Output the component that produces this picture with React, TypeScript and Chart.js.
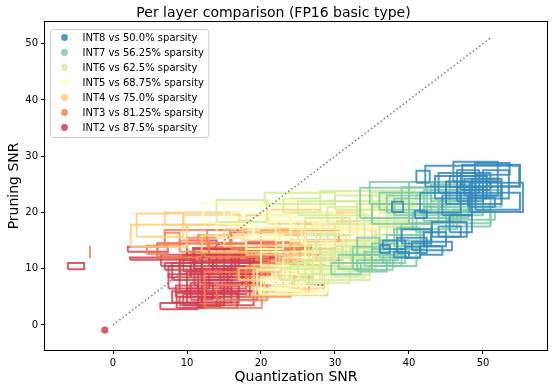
import React, { useEffect, useRef } from "react";
import { Chart, registerables } from "chart.js";

Chart.register(...registerables);

type Box = [number, number, number, number]; // [xMin, xMax, yMin, yMax]

const seriesLabels = [
  "INT8 vs 50.0% sparsity",
  "INT7 vs 56.25% sparsity",
  "INT6 vs 62.5% sparsity",
  "INT5 vs 68.75% sparsity",
  "INT4 vs 75.0% sparsity",
  "INT3 vs 81.25% sparsity",
  "INT2 vs 87.5% sparsity",
];

const int8Boxes: Box[] = [
  [42.2, 54.9, 24.6, 28.3], [47.2, 55.0, 24.6, 28.5], [48.9, 53.6, 26.7, 28.8],
  [46.0, 52.0, 25.5, 29.0], [48.2, 55.4, 20.1, 25.3], [49.0, 55.0, 20.5, 23.5],
  [48.0, 51.6, 21.0, 22.6], [41.0, 42.8, 25.3, 27.4], [43.5, 50.5, 22.5, 26.5],
  [45.0, 52.5, 21.5, 25.5], [44.0, 49.0, 23.5, 27.0], [46.5, 50.0, 22.0, 24.5],
  [47.5, 52.5, 23.0, 26.0], [50.0, 53.5, 22.5, 27.5], [44.5, 48.5, 19.5, 23.0],
  [41.5, 47.0, 20.0, 23.5], [37.7, 39.2, 20.1, 21.9], [40.8, 42.4, 19.0, 20.3],
  [43.1, 47.8, 15.7, 18.3], [44.0, 47.0, 15.7, 17.5], [36.1, 37.4, 12.8, 14.2],
  [38.4, 42.4, 12.8, 15.5], [39.5, 41.5, 11.9, 13.9], [40.4, 45.8, 13.3, 14.8],
  [38.0, 40.0, 12.0, 13.0], [41.5, 44.5, 12.5, 14.0], [36.5, 39.5, 13.5, 15.0],
  [42.0, 45.0, 14.0, 16.5], [45.5, 48.5, 16.5, 19.5], [39.0, 43.0, 14.5, 17.0],
  [46.5, 49.5, 23.5, 27.5], [47.0, 51.0, 24.0, 27.0], [48.5, 52.0, 23.0, 26.0],
  [45.5, 50.5, 24.5, 26.5],
];

const int7Boxes: Box[] = [
  [34.7, 46.9, 21.5, 25.4], [33.4, 42.4, 19.0, 24.4], [45.0, 51.6, 18.7, 20.1],
  [40.0, 51.0, 18.1, 25.4], [36.0, 48.0, 20.5, 23.5], [38.0, 50.0, 19.5, 22.5],
  [42.0, 52.5, 21.0, 24.0], [35.0, 44.0, 18.0, 21.5], [40.5, 46.5, 17.0, 20.0],
  [37.0, 43.0, 20.0, 23.0], [43.0, 49.0, 22.0, 25.0], [32.4, 37.8, 9.8, 12.5],
  [32.4, 37.4, 11.0, 13.9], [38.4, 41.5, 12.1, 17.3], [30.5, 35.0, 10.0, 12.5],
  [34.0, 39.0, 10.5, 13.0], [36.0, 40.0, 12.0, 15.0], [35.0, 38.5, 11.5, 14.5],
  [29.5, 33.5, 9.0, 11.0], [37.0, 42.0, 13.5, 16.0], [39.0, 43.0, 15.0, 18.0],
  [41.0, 45.0, 16.5, 19.0], [33.0, 36.0, 12.5, 15.5], [44.0, 48.0, 19.0, 22.0],
  [35.0, 41.0, 10.5, 13.5], [33.0, 37.0, 9.5, 11.5], [36.5, 39.5, 11.0, 12.5],
  [38.0, 43.0, 14.0, 17.0], [45.0, 50.0, 20.0, 24.0], [39.0, 45.5, 21.5, 24.5],
  [46.0, 51.0, 17.5, 20.5], [42.0, 47.0, 18.5, 21.0],
];

const int6Boxes: Box[] = [
  [14.0, 20.8, 18.3, 22.2], [20.5, 30.0, 21.5, 23.5], [28.0, 41.0, 22.0, 23.8],
  [30.0, 38.0, 20.5, 23.0], [25.0, 35.0, 19.5, 22.0], [33.0, 40.0, 18.5, 21.5],
  [26.0, 32.0, 16.0, 19.0], [30.0, 36.0, 14.0, 18.0], [28.2, 34.7, 8.9, 11.9],
  [22.6, 28.0, 8.0, 10.0], [25.0, 30.0, 9.0, 11.5], [30.0, 35.5, 10.0, 13.0],
  [33.0, 38.0, 11.0, 14.5], [27.0, 31.0, 10.5, 13.5], [24.0, 27.0, 8.5, 10.5],
  [35.0, 39.0, 13.0, 16.0], [31.0, 34.0, 12.0, 15.0], [37.0, 42.0, 16.0, 19.5],
  [22.0, 26.5, 11.0, 14.0], [34.0, 38.0, 15.0, 19.0], [36.0, 40.0, 20.0, 22.5],
  [29.0, 33.0, 18.0, 21.0], [28.0, 34.7, 8.0, 12.5], [29.5, 34.0, 8.5, 10.5],
  [26.0, 32.0, 7.5, 10.0], [31.0, 37.0, 9.5, 12.0], [32.0, 36.5, 11.5, 13.5],
  [36.0, 41.0, 14.0, 17.5], [38.0, 42.0, 18.0, 21.5], [23.0, 28.0, 20.0, 22.5],
  [35.0, 41.0, 21.0, 23.5], [27.5, 31.5, 13.0, 16.0],
];

const int5Boxes: Box[] = [
  [12.2, 21.2, 18.3, 21.7], [24.0, 42.0, 21.0, 23.6], [16.0, 28.0, 17.5, 20.0],
  [20.0, 33.0, 19.5, 22.0], [27.0, 37.0, 18.0, 21.0], [30.0, 40.0, 17.0, 20.5],
  [22.0, 30.0, 15.0, 18.5], [26.0, 34.0, 13.0, 16.5], [31.0, 37.0, 14.0, 17.5],
  [24.2, 28.4, 7.5, 10.3], [19.5, 25.3, 6.2, 9.8], [20.0, 24.0, 6.5, 8.5],
  [21.5, 26.0, 7.0, 9.0], [25.0, 29.0, 8.0, 11.0], [28.0, 32.0, 9.5, 12.5],
  [23.0, 27.0, 9.0, 12.0], [27.0, 30.5, 11.0, 14.0], [18.0, 23.0, 13.5, 16.0],
  [32.0, 38.0, 16.0, 19.0], [35.0, 40.5, 19.0, 22.0], [20.0, 26.0, 10.5, 13.0],
  [14.0, 19.0, 15.5, 18.0], [20.0, 28.0, 5.5, 8.0], [22.0, 29.0, 6.0, 10.0],
  [23.5, 27.5, 7.0, 9.5], [19.0, 24.0, 15.5, 18.5], [24.0, 30.0, 17.0, 20.0],
  [33.0, 39.0, 20.0, 23.0], [29.0, 34.0, 11.0, 14.5], [15.0, 25.0, 19.0, 21.0],
  [36.0, 39.5, 17.5, 21.0], [25.5, 32.0, 14.5, 17.5],
];

const int4Boxes: Box[] = [
  [3.2, 9.5, 15.7, 19.8], [2.4, 10.0, 13.9, 17.8], [7.0, 17.0, 17.8, 20.0],
  [9.5, 17.2, 17.8, 19.6], [15.0, 24.0, 14.0, 17.0], [12.0, 20.0, 13.0, 16.0],
  [18.0, 26.0, 12.5, 16.0], [22.0, 30.0, 12.0, 16.5], [25.0, 33.0, 14.5, 18.5],
  [28.0, 35.0, 15.0, 19.0], [24.0, 31.0, 16.5, 20.0], [20.0, 27.0, 10.0, 13.0],
  [26.0, 32.0, 10.5, 14.0], [19.0, 25.0, 6.0, 9.5], [21.5, 27.0, 7.0, 10.0],
  [17.0, 23.5, 8.0, 10.1], [23.0, 29.0, 8.0, 11.5], [29.0, 34.0, 12.5, 16.0],
  [30.0, 36.0, 17.0, 20.5], [17.5, 22.5, 15.0, 18.5], [19.0, 29.0, 5.3, 10.7],
  [20.5, 26.0, 5.5, 8.0], [23.0, 28.5, 6.5, 9.0], [22.5, 27.5, 9.5, 12.5],
  [26.0, 31.0, 13.0, 16.5], [27.0, 34.0, 17.5, 20.0], [18.0, 24.0, 16.5, 19.5],
  [21.0, 28.0, 18.0, 20.5], [31.0, 35.5, 14.0, 17.0], [24.5, 29.5, 11.0, 14.5],
];

const int3Boxes: Box[] = [
  [-3.1, -3.1, 11.9, 14.1], [4.6, 7.4, 12.6, 14.1], [7.0, 9.0, 14.0, 16.4],
  [12.7, 15.8, 13.9, 16.9], [6.0, 12.0, 12.0, 14.5], [10.0, 18.0, 13.0, 15.5],
  [18.0, 26.0, 13.0, 16.0], [20.0, 28.0, 11.0, 14.5], [22.0, 30.0, 13.5, 17.0],
  [24.0, 31.0, 11.5, 15.0], [26.0, 32.0, 15.0, 18.0], [9.0, 13.0, 13.0, 15.0],
  [7.0, 18.0, 14.5, 16.9], [16.0, 30.0, 13.5, 16.5], [20.0, 30.5, 14.0, 16.9],
  [25.0, 30.0, 12.5, 15.0], [11.5, 16.0, 14.5, 16.0], [19.5, 24.5, 11.5, 13.5],
  [12.4, 20.1, 3.0, 9.4], [14.0, 20.8, 4.4, 7.1], [16.8, 23.5, 8.0, 10.1],
  [18.0, 24.0, 5.0, 8.5], [20.0, 25.0, 6.0, 9.0], [12.4, 18.0, 12.1, 12.8],
  [18.2, 21.0, 12.1, 13.7], [21.0, 27.0, 8.5, 11.5], [22.0, 26.5, 6.0, 9.0],
  [18.0, 24.5, 7.0, 10.5],
];

const int2Boxes: Box[] = [
  [-6.1, -3.9, 9.9, 11.0], [2.0, 7.4, 13.0, 13.9], [2.3, 10.5, 11.6, 12.0],
  [6.4, 11.4, 2.8, 3.9], [7.0, 12.0, 9.8, 11.0], [8.6, 16.8, 3.0, 5.7],
  [9.0, 14.0, 3.5, 5.0], [10.0, 16.0, 4.0, 6.5], [10.8, 21.2, 11.2, 13.7],
  [8.0, 15.0, 8.0, 11.0], [9.5, 17.0, 9.5, 12.5], [11.0, 19.0, 10.0, 13.0],
  [12.0, 20.0, 7.5, 10.5], [7.5, 13.0, 6.5, 9.0], [13.0, 22.0, 10.5, 14.5],
  [15.0, 24.0, 11.0, 13.5], [16.0, 25.0, 9.0, 12.0], [8.5, 11.5, 5.0, 7.0],
  [12.5, 18.0, 5.5, 8.5], [6.0, 10.0, 12.0, 14.5], [24.2, 28.4, 7.1, 10.7],
  [18.0, 24.0, 12.0, 14.8], [10.0, 14.0, 12.5, 15.0], [14.0, 19.0, 3.5, 6.0],
  [20.0, 27.0, 12.5, 13.8], [11.5, 15.5, 6.0, 9.0], [12.0, 22.0, 8.0, 12.5],
  [13.5, 21.0, 9.0, 11.5], [14.0, 23.0, 10.0, 13.0], [15.5, 20.5, 8.5, 10.5],
  [11.0, 17.5, 7.0, 10.0], [10.5, 16.0, 8.5, 12.0], [16.5, 22.5, 9.5, 12.5],
  [17.0, 25.3, 11.0, 13.3], [9.0, 13.5, 9.0, 11.5], [8.0, 12.0, 4.0, 6.0],
  [9.5, 15.0, 3.5, 5.5], [10.5, 13.5, 4.5, 7.5], [12.0, 17.0, 4.0, 7.0],
  [11.5, 14.5, 3.2, 4.8], [7.5, 10.5, 8.5, 10.5], [13.0, 18.5, 11.5, 13.5],
  [18.5, 22.0, 10.5, 12.0], [14.5, 18.0, 6.5, 9.5], [20.0, 24.0, 9.0, 11.5],
  [6.5, 12.0, 10.5, 12.5], [12.5, 16.0, 5.0, 8.0], [15.0, 19.5, 4.5, 7.5],
  [9.0, 19.0, 6.0, 12.0], [10.0, 18.5, 5.0, 9.5], [11.0, 20.0, 9.5, 13.5],
];

const int2Dot = [{ x: -1.1, y: -0.9 }];
const diagonalLine = [{ x: 0, y: 0 }, { x: 51, y: 51 }];

const xTickValues = [0, 10, 20, 30, 40, 50];
const yTickValues = [0, 10, 20, 30, 40, 50];
const xRange = [-9.19, 58.65];
const yRange = [-4.45, 53.9];

const allBoxes = [int8Boxes, int7Boxes, int6Boxes, int5Boxes, int4Boxes, int3Boxes, int2Boxes];

const seriesRGB = [
  [50, 136, 189],
  [125, 203, 165],
  [210, 237, 156],
  [255, 255, 191],
  [254, 207, 125],
  [247, 131, 77],
  [213, 62, 79],
];
const ALPHA = 0.85;
const rgba = (c: number[], a: number) => `rgba(${c[0]},${c[1]},${c[2]},${a})`;

const FONT = '"DejaVu Sans", "Liberation Sans", sans-serif';

function boxesToPath(boxes: Box[]) {
  const pts: { x: number; y: number | null }[] = [];
  boxes.forEach(([x0, x1, y0, y1]) => {
    pts.push({ x: x0, y: y0 }, { x: x1, y: y0 }, { x: x1, y: y1 }, { x: x0, y: y1 }, { x: x0, y: y0 });
    pts.push({ x: x0, y: null });
  });
  return pts;
}

const framePlugin = {
  id: "frame",
  afterDraw(chart: any) {
    const { ctx, chartArea: a } = chart;
    ctx.save();
    ctx.strokeStyle = "#000";
    ctx.lineWidth = 1;
    const l = Math.round(a.left) - 0.5;
    const t = Math.round(a.top) - 0.5;
    const r = Math.round(a.right) + 0.5;
    const b = Math.round(a.bottom) + 0.5;
    ctx.strokeRect(l, t, r - l, b - t);
    ctx.restore();
  },
};

const legendPlugin = {
  id: "boxLegend",
  afterDraw(chart: any) {
    const { ctx, chartArea: a } = chart;
    ctx.save();
    ctx.font = `10px ${FONT}`;
    const maxW = Math.max(...seriesLabels.map((l) => ctx.measureText(l).width));
    const x0 = Math.round(a.left) + 5.5;
    const y0 = Math.round(a.top) + 7.5;
    const w = 32 + maxW + 5;
    const h = 108;
    const r = 3;
    ctx.beginPath();
    ctx.moveTo(x0 + r, y0);
    ctx.lineTo(x0 + w - r, y0);
    ctx.arcTo(x0 + w, y0, x0 + w, y0 + r, r);
    ctx.lineTo(x0 + w, y0 + h - r);
    ctx.arcTo(x0 + w, y0 + h, x0 + w - r, y0 + h, r);
    ctx.lineTo(x0 + r, y0 + h);
    ctx.arcTo(x0, y0 + h, x0, y0 + h - r, r);
    ctx.lineTo(x0, y0 + r);
    ctx.arcTo(x0, y0, x0 + r, y0, r);
    ctx.closePath();
    ctx.fillStyle = "rgba(255,255,255,0.8)";
    ctx.fill();
    ctx.strokeStyle = "#cccccc";
    ctx.lineWidth = 1;
    ctx.stroke();
    seriesLabels.forEach((label, i) => {
      const cy = y0 + 8 + i * 15;
      ctx.beginPath();
      ctx.arc(x0 + 14, cy, 3.4, 0, Math.PI * 2);
      ctx.fillStyle = rgba(seriesRGB[i], ALPHA);
      ctx.fill();
      ctx.fillStyle = "#000";
      ctx.textBaseline = "middle";
      ctx.textAlign = "left";
      ctx.fillText(label, x0 + 32, cy + 0.5);
    });
    ctx.restore();
  },
};

export default function App() {
  const canvasRef = useRef<HTMLCanvasElement | null>(null);

  useEffect(() => {
    if (!canvasRef.current) return;
    const datasets: any[] = [];
    datasets.push({
      type: "line",
      label: "diag",
      data: diagonalLine,
      borderColor: "rgba(110,110,110,0.9)",
      borderWidth: 1.5,
      borderDash: [1.5, 2.5],
      borderCapStyle: "butt",
      pointRadius: 0,
      fill: false,
    });
    allBoxes.forEach((boxes, i) => {
      const color = rgba(seriesRGB[i], ALPHA);
      datasets.push({
        type: "line",
        label: seriesLabels[i],
        data: boxesToPath(boxes),
        borderColor: color,
        borderWidth: 2,
        borderJoinStyle: "miter",
        pointRadius: 0,
        pointHoverRadius: 0,
        fill: false,
        tension: 0,
        spanGaps: false,
        segment: { borderColor: () => color },
      });
    });
    datasets.push({
      type: "line",
      label: "dot",
      data: int2Dot,
      showLine: false,
      pointRadius: 3.6,
      pointBorderWidth: 0,
      pointBackgroundColor: rgba(seriesRGB[6], ALPHA),
    });

    const chart = new Chart(canvasRef.current, {
      type: "line",
      data: { datasets },
      options: {
        animation: false,
        responsive: false,
        devicePixelRatio: 1,
        events: [],
        layout: { padding: { left: 0, right: 7, top: 0, bottom: 0 } },
        plugins: {
          legend: { display: false },
          tooltip: { enabled: false },
          title: {
            display: true,
            text: "Per layer comparison (FP16 basic type)",
            color: "#000",
            font: { family: FONT, size: 14, weight: "normal" },
            padding: { top: 5, bottom: 0 },
          },
        },
        scales: {
          x: {
            type: "linear",
            min: xRange[0],
            max: xRange[1],
            afterBuildTicks: (s: any) => {
              s.ticks = xTickValues.map((v) => ({ value: v }));
            },
            afterFit: (s: any) => {
              s.height = 42;
            },
            grid: { drawOnChartArea: false, drawTicks: true, tickLength: 4, color: "#000", tickWidth: 1 },
            border: { display: false },
            ticks: { color: "#000", font: { family: FONT, size: 10 }, padding: 3, maxRotation: 0, autoSkip: false },
            title: {
              display: true,
              text: "Quantization SNR",
              color: "#000",
              font: { family: FONT, size: 14 },
              padding: { top: 0, bottom: 6 },
            },
          },
          y: {
            type: "linear",
            min: yRange[0],
            max: yRange[1],
            afterBuildTicks: (s: any) => {
              s.ticks = yTickValues.map((v) => ({ value: v }));
            },
            afterFit: (s: any) => {
              s.width = 45;
            },
            grid: { drawOnChartArea: false, drawTicks: true, tickLength: 4, color: "#000", tickWidth: 1 },
            border: { display: false },
            ticks: { color: "#000", font: { family: FONT, size: 10 }, padding: 3, autoSkip: false },
            title: {
              display: true,
              text: "Pruning SNR",
              color: "#000",
              font: { family: FONT, size: 14 },
              padding: { top: 6, bottom: 0 },
            },
          },
        },
      },
      plugins: [framePlugin, legendPlugin],
    } as any);

    return () => chart.destroy();
  }, []);

  return (
    <div style={{ position: "fixed", left: 0, top: 0, width: 554, height: 392, background: "#fff" }}>
      <canvas ref={canvasRef} width={554} height={392} style={{ display: "block" }} />
    </div>
  );
}
